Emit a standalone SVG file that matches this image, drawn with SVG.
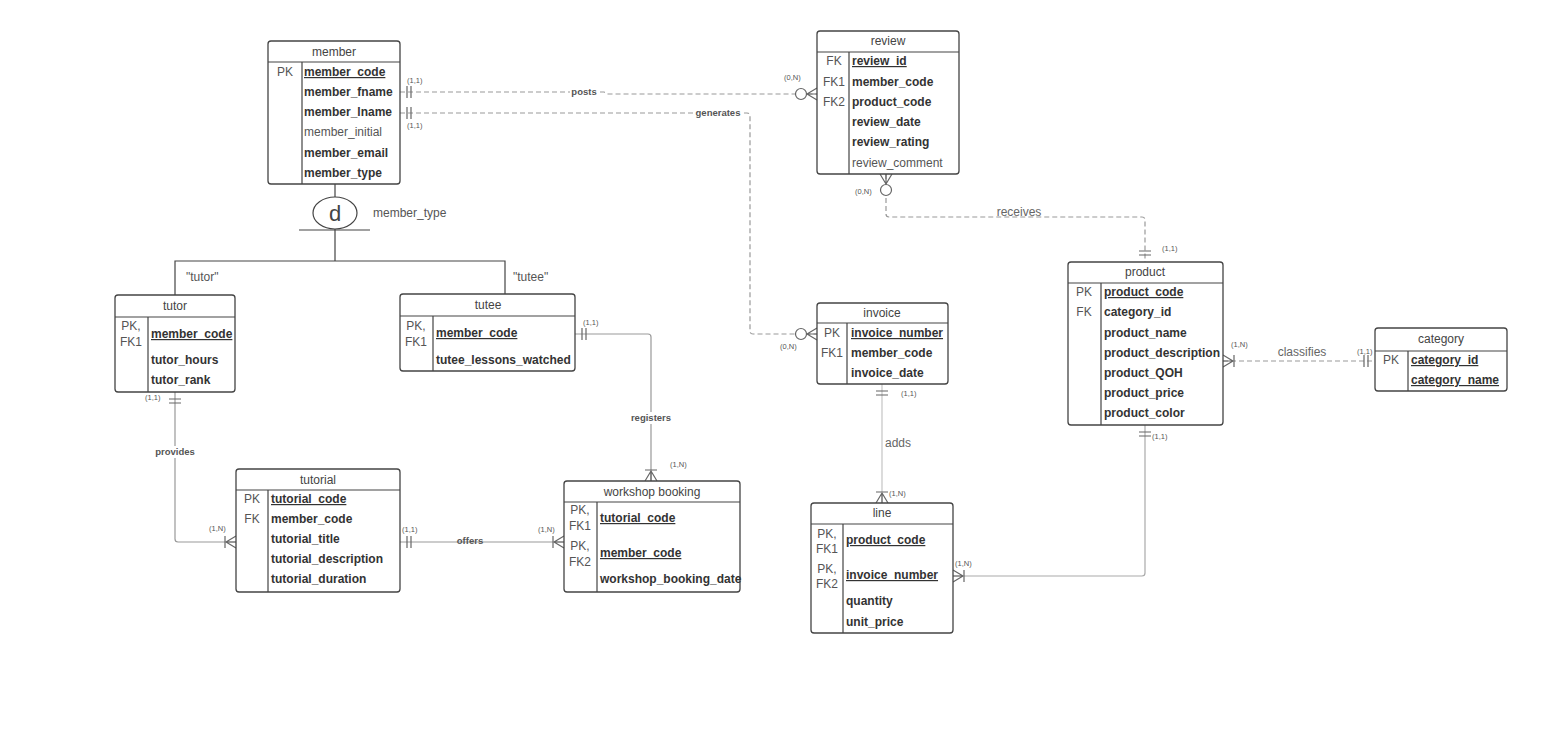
<svg xmlns="http://www.w3.org/2000/svg" width="1553" height="730" viewBox="0 0 1553 730">
<style>
text{font-family:"Liberation Sans",Arial,sans-serif}
.box{fill:#fff;stroke:#444;stroke-width:1.3}
.ln{stroke:#444;stroke-width:1.2;fill:none}
.hdr{font-size:12px;fill:#444;text-anchor:middle}
.key{font-size:12px;fill:#555;text-anchor:middle}
.att{font-size:12px;font-weight:bold;fill:#333}
.nrm{font-size:12px;fill:#555}
.u{text-decoration:underline}
.conn{stroke:#999;stroke-width:1.2;fill:none}
.dash{stroke-dasharray:5 3}
.card{font-size:7.5px;fill:#555}
.rel{font-size:9.5px;font-weight:bold;fill:#555;text-anchor:middle}
.rel2{font-size:12px;fill:#666;text-anchor:middle}
.lbl{font-size:12px;fill:#555}
</style>
<defs>
<marker id="oneone" markerUnits="userSpaceOnUse" markerWidth="30" markerHeight="30" viewBox="-25 -15 30 30" refX="0" refY="0" orient="auto-start-reverse" overflow="visible">
<path d="M-7,-6V6M-11,-6V6" stroke="#666" stroke-width="1.2" fill="none"/>
</marker>
<marker id="onemany" markerUnits="userSpaceOnUse" markerWidth="30" markerHeight="30" viewBox="-25 -15 30 30" refX="0" refY="0" orient="auto-start-reverse" overflow="visible">
<path d="M-11,-6V6M-10,0L0,-6M-10,0L0,0M-10,0L0,6" stroke="#666" stroke-width="1.2" fill="none"/>
</marker>
<marker id="zeromany" markerUnits="userSpaceOnUse" markerWidth="30" markerHeight="30" viewBox="-25 -15 30 30" refX="0" refY="0" orient="auto-start-reverse" overflow="visible">
<path d="M-10,0L0,-6M-10,0L0,0M-10,0L0,6" stroke="#666" stroke-width="1.2" fill="none"/>
<circle cx="-16" cy="0" r="5.5" fill="#fff" stroke="#666" stroke-width="1.2"/>
</marker>
</defs>
<rect width="1553" height="730" fill="#fff"/>

<g id="connectors">
<path class="ln" d="M335,184V197M299,230H370M335,229V261M175,295V261H505V294"/>
<ellipse class="ln" cx="335" cy="213" rx="22" ry="16" fill="#fff"/>
<text x="335" y="221" style="font-size:22px;fill:#444;text-anchor:middle">d</text>
<text class="lbl" x="373" y="217">member_type</text>
<text class="lbl" x="186" y="281">"tutor"</text>
<text class="lbl" x="513" y="281">"tutee"</text>

<path class="conn dash" d="M400,92H604L608,94H817" marker-start="url(#oneone)" marker-end="url(#zeromany)"/>
<path class="conn dash" d="M400,113H747Q750,113 750,116V331Q750,334 753,334H817" marker-start="url(#oneone)" marker-end="url(#zeromany)"/>
<path class="conn dash" d="M886,174V214Q886,217 889,217H1142Q1145,217 1145,220V262" marker-start="url(#zeromany)" marker-end="url(#oneone)"/>
<path class="conn dash" d="M1223,361H1375" marker-start="url(#onemany)" marker-end="url(#oneone)"/>
<path class="conn" style="stroke:#aaa" d="M953,576H1142Q1145,576 1145,573V425" marker-start="url(#onemany)" marker-end="url(#oneone)"/>
<path class="conn" style="stroke:#c4c4c4" d="M882,384V503" marker-start="url(#oneone)" marker-end="url(#onemany)"/>
<path class="conn" d="M175,392V539Q175,542 178,542H236" marker-start="url(#oneone)" marker-end="url(#onemany)"/>
<path class="conn" d="M400,542H564" marker-start="url(#oneone)" marker-end="url(#onemany)"/>
<path class="conn" d="M575,334H648Q651,334 651,337V481" marker-start="url(#oneone)" marker-end="url(#onemany)"/>

<rect x="570" y="87" width="28" height="11" fill="#fff"/>
<text class="rel" x="584" y="95">posts</text>
<rect x="695" y="107" width="47" height="12" fill="#fff"/>
<text class="rel" x="718" y="116">generates</text>
<rect x="153" y="446" width="44" height="12" fill="#fff"/>
<text class="rel" x="175" y="455">provides</text>
<rect x="628" y="412" width="46" height="12" fill="#fff"/>
<text class="rel" x="651" y="421">registers</text>
<text class="rel" x="470" y="544">offers</text>
<text class="rel2" x="1019" y="216">receives</text>
<text class="rel2" x="1302" y="356">classifies</text>
<text class="rel2" x="898" y="447">adds</text>

<text class="card" x="407" y="83">(1,1)</text>
<text class="card" x="784" y="80">(0,N)</text>
<text class="card" x="407" y="128">(1,1)</text>
<text class="card" x="780" y="349">(0,N)</text>
<text class="card" x="855" y="194">(0,N)</text>
<text class="card" x="1162" y="251">(1,1)</text>
<text class="card" x="1231" y="347">(1,N)</text>
<text class="card" x="1357" y="354">(1,1)</text>
<text class="card" x="955" y="566">(1,N)</text>
<text class="card" x="1152" y="439">(1,1)</text>
<text class="card" x="901" y="396">(1,1)</text>
<text class="card" x="889" y="496">(1,N)</text>
<text class="card" x="145" y="400">(1,1)</text>
<text class="card" x="209" y="531">(1,N)</text>
<text class="card" x="402" y="532">(1,1)</text>
<text class="card" x="538" y="532">(1,N)</text>
<text class="card" x="583" y="325">(1,1)</text>
<text class="card" x="670" y="467">(1,N)</text>
</g>

<g id="member">
<rect class="box" x="268" y="41" width="132" height="143" rx="3"/>
<path class="ln" d="M268,62H400M302,62V184"/>
<text class="hdr" x="334" y="56">member</text>
<text class="key" x="285" y="76">PK</text>
<text class="att u" x="304" y="76">member_code</text>
<text class="att" x="304" y="96">member_fname</text>
<text class="att" x="304" y="116">member_lname</text>
<text class="nrm" x="304" y="136">member_initial</text>
<text class="att" x="304" y="157">member_email</text>
<text class="att" x="304" y="177">member_type</text>
</g>

<g id="review">
<rect class="box" x="817" y="31" width="142" height="143" rx="3"/>
<path class="ln" d="M817,52H959M849,52V174"/>
<text class="hdr" x="888" y="45">review</text>
<text class="key" x="834" y="65">FK</text>
<text class="key" x="834" y="86">FK1</text>
<text class="key" x="834" y="106">FK2</text>
<text class="att u" x="852" y="65">review_id</text>
<text class="att" x="852" y="86">member_code</text>
<text class="att" x="852" y="106">product_code</text>
<text class="att" x="852" y="126">review_date</text>
<text class="att" x="852" y="146">review_rating</text>
<text class="nrm" x="852" y="167">review_comment</text>
</g>

<g id="tutor">
<rect class="box" x="115" y="295" width="120" height="97" rx="3"/>
<path class="ln" d="M115,317H235M148,317V392"/>
<text class="hdr" x="175" y="310">tutor</text>
<text class="key" x="131" y="330">PK,</text>
<text class="key" x="131" y="346">FK1</text>
<text class="att u" x="151" y="338">member_code</text>
<text class="att" x="151" y="364">tutor_hours</text>
<text class="att" x="151" y="384">tutor_rank</text>
</g>

<g id="tutee">
<rect class="box" x="400" y="294" width="175" height="77" rx="3"/>
<path class="ln" d="M400,316H575M433,316V371"/>
<text class="hdr" x="488" y="309">tutee</text>
<text class="key" x="416" y="330">PK,</text>
<text class="key" x="416" y="346">FK1</text>
<text class="att u" x="436" y="337">member_code</text>
<text class="att" x="436" y="364">tutee_lessons_watched</text>
</g>

<g id="tutorial">
<rect class="box" x="236" y="469" width="164" height="123" rx="3"/>
<path class="ln" d="M236,490H400M268,490V592"/>
<text class="hdr" x="318" y="484">tutorial</text>
<text class="key" x="252" y="503">PK</text>
<text class="key" x="252" y="523">FK</text>
<text class="att u" x="271" y="503">tutorial_code</text>
<text class="att" x="271" y="523">member_code</text>
<text class="att" x="271" y="543">tutorial_title</text>
<text class="att" x="271" y="563">tutorial_description</text>
<text class="att" x="271" y="583">tutorial_duration</text>
</g>

<g id="workshop_booking">
<rect class="box" x="564" y="481" width="176" height="111" rx="3"/>
<path class="ln" d="M564,502H740M597,502V592"/>
<text class="hdr" x="652" y="496">workshop booking</text>
<text class="key" x="580" y="514">PK,</text>
<text class="key" x="580" y="530">FK1</text>
<text class="key" x="580" y="550">PK,</text>
<text class="key" x="580" y="566">FK2</text>
<text class="att u" x="600" y="522">tutorial_code</text>
<text class="att u" x="600" y="557">member_code</text>
<text class="att" x="600" y="583">workshop_booking_date</text>
</g>

<g id="invoice">
<rect class="box" x="817" y="303" width="131" height="81" rx="3"/>
<path class="ln" d="M817,323H948M847,323V384"/>
<text class="hdr" x="882" y="317">invoice</text>
<text class="key" x="832" y="337">PK</text>
<text class="key" x="832" y="357">FK1</text>
<text class="att u" x="851" y="337">invoice_number</text>
<text class="att" x="851" y="357">member_code</text>
<text class="att" x="851" y="377">invoice_date</text>
</g>

<g id="line">
<rect class="box" x="811" y="503" width="142" height="130" rx="3"/>
<path class="ln" d="M811,524H953M843,524V633"/>
<text class="hdr" x="882" y="517">line</text>
<text class="key" x="827" y="538">PK,</text>
<text class="key" x="827" y="553">FK1</text>
<text class="key" x="827" y="573">PK,</text>
<text class="key" x="827" y="588">FK2</text>
<text class="att u" x="846" y="544">product_code</text>
<text class="att u" x="846" y="579">invoice_number</text>
<text class="att" x="846" y="605">quantity</text>
<text class="att" x="846" y="626">unit_price</text>
</g>

<g id="product">
<rect class="box" x="1068" y="262" width="155" height="163" rx="3"/>
<path class="ln" d="M1068,283H1223M1101,283V425"/>
<text class="hdr" x="1145" y="276">product</text>
<text class="key" x="1084" y="296">PK</text>
<text class="key" x="1084" y="316">FK</text>
<text class="att u" x="1104" y="296">product_code</text>
<text class="att" x="1104" y="316">category_id</text>
<text class="att" x="1104" y="337">product_name</text>
<text class="att" x="1104" y="357">product_description</text>
<text class="att" x="1104" y="377">product_QOH</text>
<text class="att" x="1104" y="397">product_price</text>
<text class="att" x="1104" y="417">product_color</text>
</g>

<g id="category">
<rect class="box" x="1375" y="328" width="132" height="63" rx="3"/>
<path class="ln" d="M1375,351H1507M1408,351V391"/>
<text class="hdr" x="1441" y="343">category</text>
<text class="key" x="1391" y="364">PK</text>
<text class="att u" x="1411" y="364">category_id</text>
<text class="att u" x="1411" y="384">category_name</text>
</g>
</svg>
